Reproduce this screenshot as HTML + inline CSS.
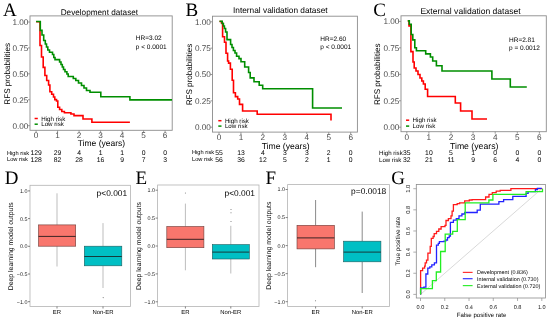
<!DOCTYPE html>
<html><head><meta charset="utf-8"><style>
html,body{margin:0;padding:0;background:#fff;}
body{width:550px;height:321px;overflow:hidden;}
svg{display:block;filter:blur(0.5px);}
text{text-rendering:geometricPrecision;}
</style></head><body>
<svg width="550" height="321" viewBox="0 0 550 321">
<rect x="0" y="0" width="550" height="321" fill="#fff"/>
<rect x="30.00" y="15.90" width="142.20" height="114.40" fill="none" stroke="#8c8c8c" stroke-width="0.9"/>
<line x1="28.00" y1="22.00" x2="30.00" y2="22.00" stroke="#8c8c8c" stroke-width="0.9" />
<text x="28.40" y="24.95" font-size="8.2" text-anchor="end" fill="#4d4d4d" font-family='"Liberation Sans", sans-serif' >1.00</text>
<line x1="28.00" y1="47.92" x2="30.00" y2="47.92" stroke="#8c8c8c" stroke-width="0.9" />
<text x="28.40" y="50.88" font-size="8.2" text-anchor="end" fill="#4d4d4d" font-family='"Liberation Sans", sans-serif' >0.75</text>
<line x1="28.00" y1="73.85" x2="30.00" y2="73.85" stroke="#8c8c8c" stroke-width="0.9" />
<text x="28.40" y="76.80" font-size="8.2" text-anchor="end" fill="#4d4d4d" font-family='"Liberation Sans", sans-serif' >0.50</text>
<line x1="28.00" y1="99.78" x2="30.00" y2="99.78" stroke="#8c8c8c" stroke-width="0.9" />
<text x="28.40" y="102.73" font-size="8.2" text-anchor="end" fill="#4d4d4d" font-family='"Liberation Sans", sans-serif' >0.25</text>
<line x1="28.00" y1="125.70" x2="30.00" y2="125.70" stroke="#8c8c8c" stroke-width="0.9" />
<text x="28.40" y="128.65" font-size="8.2" text-anchor="end" fill="#4d4d4d" font-family='"Liberation Sans", sans-serif' >0.00</text>
<line x1="36.10" y1="130.30" x2="36.10" y2="132.30" stroke="#8c8c8c" stroke-width="0.9" />
<text x="36.10" y="137.95" font-size="8.2" text-anchor="middle" fill="#4d4d4d" font-family='"Liberation Sans", sans-serif' >0</text>
<line x1="57.60" y1="130.30" x2="57.60" y2="132.30" stroke="#8c8c8c" stroke-width="0.9" />
<text x="57.60" y="137.95" font-size="8.2" text-anchor="middle" fill="#4d4d4d" font-family='"Liberation Sans", sans-serif' >1</text>
<line x1="79.10" y1="130.30" x2="79.10" y2="132.30" stroke="#8c8c8c" stroke-width="0.9" />
<text x="79.10" y="137.95" font-size="8.2" text-anchor="middle" fill="#4d4d4d" font-family='"Liberation Sans", sans-serif' >2</text>
<line x1="100.60" y1="130.30" x2="100.60" y2="132.30" stroke="#8c8c8c" stroke-width="0.9" />
<text x="100.60" y="137.95" font-size="8.2" text-anchor="middle" fill="#4d4d4d" font-family='"Liberation Sans", sans-serif' >3</text>
<line x1="122.10" y1="130.30" x2="122.10" y2="132.30" stroke="#8c8c8c" stroke-width="0.9" />
<text x="122.10" y="137.95" font-size="8.2" text-anchor="middle" fill="#4d4d4d" font-family='"Liberation Sans", sans-serif' >4</text>
<line x1="143.60" y1="130.30" x2="143.60" y2="132.30" stroke="#8c8c8c" stroke-width="0.9" />
<text x="143.60" y="137.95" font-size="8.2" text-anchor="middle" fill="#4d4d4d" font-family='"Liberation Sans", sans-serif' >5</text>
<line x1="165.10" y1="130.30" x2="165.10" y2="132.30" stroke="#8c8c8c" stroke-width="0.9" />
<text x="165.10" y="137.95" font-size="8.2" text-anchor="middle" fill="#4d4d4d" font-family='"Liberation Sans", sans-serif' >6</text>
<text x="60.70" y="14.95" font-size="8.2" text-anchor="start" fill="#000" font-family='"Liberation Sans", sans-serif' >Development dataset</text>
<text transform="translate(6.60,73.85) rotate(-90)" x="0" y="2.92" font-size="8.1" text-anchor="middle" fill="#000" font-family='"Liberation Sans", sans-serif'>RFS probabilities</text>
<text x="101.40" y="146.46" font-size="8.5" text-anchor="middle" fill="#000" font-family='"Liberation Sans", sans-serif' >Time (years)</text>
<text x="135.80" y="39.74" font-size="6.5" text-anchor="start" fill="#000" font-family='"Liberation Sans", sans-serif' >HR=3.02</text>
<text x="135.80" y="49.04" font-size="6.5" text-anchor="start" fill="#000" font-family='"Liberation Sans", sans-serif' >p &lt; 0.0001</text>
<line x1="34.60" y1="118.50" x2="37.80" y2="118.50" stroke="#ff0000" stroke-width="1.5" />
<line x1="34.60" y1="124.20" x2="37.80" y2="124.20" stroke="#008e00" stroke-width="1.5" />
<text x="41.20" y="120.73" font-size="6.2" text-anchor="start" fill="#000" font-family='"Liberation Sans", sans-serif' >High risk</text>
<text x="41.20" y="126.43" font-size="6.2" text-anchor="start" fill="#000" font-family='"Liberation Sans", sans-serif' >Low risk</text>
<polyline points="36.10,21.80 40.00,21.80 40.00,45.50 41.50,45.50 41.50,57.00 43.20,57.00 43.20,67.40 44.90,67.40 44.90,75.50 46.70,75.50 46.70,80.50 48.60,80.50 48.60,85.00 49.90,85.00 49.90,91.70 51.70,91.70 51.70,94.20 53.50,94.20 53.50,97.00 54.80,97.00 54.80,99.60 56.50,99.60 56.50,101.00 57.80,101.00 57.80,107.30 59.60,107.30 59.60,109.50 61.80,109.50 61.80,111.50 64.40,111.50 64.40,112.70 70.90,112.70 70.90,114.00 74.00,114.00 74.00,115.60 83.00,115.60 83.00,119.00 91.90,119.00 91.90,122.20 129.90,122.20" fill="none" stroke="#ff0000" stroke-width="1.6" stroke-linejoin="miter" stroke-linecap="butt" />
<polyline points="36.10,21.50 40.30,21.50 40.30,30.40 42.00,30.40 42.00,35.00 43.70,35.00 43.70,40.50 45.30,40.50 45.30,44.00 46.50,44.00 46.50,47.00 47.80,47.00 47.80,50.00 49.50,50.00 49.50,52.30 52.50,52.30 52.50,54.50 53.80,54.50 53.80,57.50 55.00,57.50 55.00,59.60 59.60,59.60 59.60,62.00 61.00,62.00 61.00,64.50 62.30,64.50 62.30,67.00 63.50,67.00 63.50,69.50 65.00,69.50 65.00,71.70 66.90,71.70 66.90,74.00 68.20,74.00 68.20,76.50 73.30,76.50 73.30,78.50 75.80,78.50 75.80,80.50 78.50,80.50 78.50,83.00 81.50,83.00 81.50,85.50 84.00,85.50 84.00,88.00 86.50,88.00 86.50,90.50 90.00,90.50 90.00,92.30 100.80,92.30 100.80,96.80 129.90,96.80 129.90,99.90 172.00,99.90" fill="none" stroke="#008e00" stroke-width="1.6" stroke-linejoin="miter" stroke-linecap="butt" />
<text x="7.00" y="154.85" font-size="5.7" text-anchor="start" fill="#000" font-family='"Liberation Sans", sans-serif' >High risk</text>
<text x="7.00" y="161.25" font-size="5.7" text-anchor="start" fill="#000" font-family='"Liberation Sans", sans-serif' >Low risk</text>
<text x="36.10" y="155.25" font-size="6.8" text-anchor="middle" fill="#000" font-family='"Liberation Sans", sans-serif' >129</text>
<text x="36.10" y="161.65" font-size="6.8" text-anchor="middle" fill="#000" font-family='"Liberation Sans", sans-serif' >128</text>
<text x="57.60" y="155.25" font-size="6.8" text-anchor="middle" fill="#000" font-family='"Liberation Sans", sans-serif' >29</text>
<text x="57.60" y="161.65" font-size="6.8" text-anchor="middle" fill="#000" font-family='"Liberation Sans", sans-serif' >82</text>
<text x="79.10" y="155.25" font-size="6.8" text-anchor="middle" fill="#000" font-family='"Liberation Sans", sans-serif' >4</text>
<text x="79.10" y="161.65" font-size="6.8" text-anchor="middle" fill="#000" font-family='"Liberation Sans", sans-serif' >28</text>
<text x="100.60" y="155.25" font-size="6.8" text-anchor="middle" fill="#000" font-family='"Liberation Sans", sans-serif' >1</text>
<text x="100.60" y="161.65" font-size="6.8" text-anchor="middle" fill="#000" font-family='"Liberation Sans", sans-serif' >16</text>
<text x="122.10" y="155.25" font-size="6.8" text-anchor="middle" fill="#000" font-family='"Liberation Sans", sans-serif' >1</text>
<text x="122.10" y="161.65" font-size="6.8" text-anchor="middle" fill="#000" font-family='"Liberation Sans", sans-serif' >9</text>
<text x="143.60" y="155.25" font-size="6.8" text-anchor="middle" fill="#000" font-family='"Liberation Sans", sans-serif' >0</text>
<text x="143.60" y="161.65" font-size="6.8" text-anchor="middle" fill="#000" font-family='"Liberation Sans", sans-serif' >7</text>
<text x="165.10" y="155.25" font-size="6.8" text-anchor="middle" fill="#000" font-family='"Liberation Sans", sans-serif' >0</text>
<text x="165.10" y="161.65" font-size="6.8" text-anchor="middle" fill="#000" font-family='"Liberation Sans", sans-serif' >3</text>
<text x="3.00" y="15.80" font-size="19" fill="#000" font-family='"Liberation Serif", serif'>A</text>
<rect x="212.50" y="16.20" width="144.90" height="115.90" fill="none" stroke="#8c8c8c" stroke-width="0.9"/>
<line x1="210.50" y1="21.80" x2="212.50" y2="21.80" stroke="#8c8c8c" stroke-width="0.9" />
<text x="210.90" y="24.75" font-size="8.2" text-anchor="end" fill="#4d4d4d" font-family='"Liberation Sans", sans-serif' >1.00</text>
<line x1="210.50" y1="48.15" x2="212.50" y2="48.15" stroke="#8c8c8c" stroke-width="0.9" />
<text x="210.90" y="51.10" font-size="8.2" text-anchor="end" fill="#4d4d4d" font-family='"Liberation Sans", sans-serif' >0.75</text>
<line x1="210.50" y1="74.50" x2="212.50" y2="74.50" stroke="#8c8c8c" stroke-width="0.9" />
<text x="210.90" y="77.45" font-size="8.2" text-anchor="end" fill="#4d4d4d" font-family='"Liberation Sans", sans-serif' >0.50</text>
<line x1="210.50" y1="100.85" x2="212.50" y2="100.85" stroke="#8c8c8c" stroke-width="0.9" />
<text x="210.90" y="103.80" font-size="8.2" text-anchor="end" fill="#4d4d4d" font-family='"Liberation Sans", sans-serif' >0.25</text>
<line x1="210.50" y1="127.20" x2="212.50" y2="127.20" stroke="#8c8c8c" stroke-width="0.9" />
<text x="210.90" y="130.15" font-size="8.2" text-anchor="end" fill="#4d4d4d" font-family='"Liberation Sans", sans-serif' >0.00</text>
<line x1="219.00" y1="132.10" x2="219.00" y2="134.10" stroke="#8c8c8c" stroke-width="0.9" />
<text x="219.00" y="139.55" font-size="8.2" text-anchor="middle" fill="#4d4d4d" font-family='"Liberation Sans", sans-serif' >0</text>
<line x1="240.95" y1="132.10" x2="240.95" y2="134.10" stroke="#8c8c8c" stroke-width="0.9" />
<text x="240.95" y="139.55" font-size="8.2" text-anchor="middle" fill="#4d4d4d" font-family='"Liberation Sans", sans-serif' >1</text>
<line x1="262.90" y1="132.10" x2="262.90" y2="134.10" stroke="#8c8c8c" stroke-width="0.9" />
<text x="262.90" y="139.55" font-size="8.2" text-anchor="middle" fill="#4d4d4d" font-family='"Liberation Sans", sans-serif' >2</text>
<line x1="284.85" y1="132.10" x2="284.85" y2="134.10" stroke="#8c8c8c" stroke-width="0.9" />
<text x="284.85" y="139.55" font-size="8.2" text-anchor="middle" fill="#4d4d4d" font-family='"Liberation Sans", sans-serif' >3</text>
<line x1="306.80" y1="132.10" x2="306.80" y2="134.10" stroke="#8c8c8c" stroke-width="0.9" />
<text x="306.80" y="139.55" font-size="8.2" text-anchor="middle" fill="#4d4d4d" font-family='"Liberation Sans", sans-serif' >4</text>
<line x1="328.75" y1="132.10" x2="328.75" y2="134.10" stroke="#8c8c8c" stroke-width="0.9" />
<text x="328.75" y="139.55" font-size="8.2" text-anchor="middle" fill="#4d4d4d" font-family='"Liberation Sans", sans-serif' >5</text>
<line x1="350.70" y1="132.10" x2="350.70" y2="134.10" stroke="#8c8c8c" stroke-width="0.9" />
<text x="350.70" y="139.55" font-size="8.2" text-anchor="middle" fill="#4d4d4d" font-family='"Liberation Sans", sans-serif' >6</text>
<text x="233.00" y="13.29" font-size="8.3" text-anchor="start" fill="#000" font-family='"Liberation Sans", sans-serif' >Internal validation dataset</text>
<text transform="translate(189.30,74.50) rotate(-90)" x="0" y="2.92" font-size="8.1" text-anchor="middle" fill="#000" font-family='"Liberation Sans", sans-serif'>RFS probabilities</text>
<text x="285.60" y="148.80" font-size="8.6" text-anchor="middle" fill="#000" font-family='"Liberation Sans", sans-serif' >Time (years)</text>
<text x="320.30" y="41.04" font-size="6.5" text-anchor="start" fill="#000" font-family='"Liberation Sans", sans-serif' >HR=2.60</text>
<text x="320.30" y="49.04" font-size="6.5" text-anchor="start" fill="#000" font-family='"Liberation Sans", sans-serif' >p &lt; 0.0001</text>
<line x1="218.30" y1="120.70" x2="221.50" y2="120.70" stroke="#ff0000" stroke-width="1.5" />
<line x1="218.30" y1="126.10" x2="221.50" y2="126.10" stroke="#008e00" stroke-width="1.5" />
<text x="224.90" y="122.93" font-size="6.2" text-anchor="start" fill="#000" font-family='"Liberation Sans", sans-serif' >High risk</text>
<text x="224.90" y="128.33" font-size="6.2" text-anchor="start" fill="#000" font-family='"Liberation Sans", sans-serif' >Low risk</text>
<polyline points="219.50,21.50 221.50,21.50 221.50,23.00 222.60,23.00 222.60,36.80 224.50,36.80 224.50,42.30 226.00,42.30 226.00,53.20 227.60,53.20 227.60,61.00 228.60,61.00 228.60,63.10 230.40,63.10 230.40,69.30 232.20,69.30 232.20,80.20 233.50,80.20 233.50,92.70 235.40,92.70 235.40,96.60 237.70,96.60 237.70,99.00 239.50,99.00 239.50,104.40 242.60,104.40 242.60,111.00 257.20,111.00 257.20,114.20 331.00,114.20 331.00,120.60" fill="none" stroke="#ff0000" stroke-width="1.6" stroke-linejoin="miter" stroke-linecap="butt" />
<polyline points="219.50,21.30 222.20,21.30 222.20,23.50 223.40,23.50 223.40,26.00 224.40,26.00 224.40,28.50 225.60,28.50 225.60,32.00 227.00,32.00 227.00,39.60 230.60,39.60 230.60,44.50 232.00,44.50 232.00,47.50 233.40,47.50 233.40,50.50 235.00,50.50 235.00,53.00 236.60,53.00 236.60,56.30 239.00,56.30 239.00,58.60 241.00,58.60 241.00,61.70 244.70,61.70 244.70,67.00 248.60,67.00 248.60,72.50 250.20,72.50 250.20,77.90 254.00,77.90 254.00,81.80 259.20,81.80 259.20,85.20 262.70,85.20 262.70,88.80 312.60,88.80 312.60,108.00 342.00,108.00" fill="none" stroke="#008e00" stroke-width="1.6" stroke-linejoin="miter" stroke-linecap="butt" />
<text x="192.00" y="154.35" font-size="5.7" text-anchor="start" fill="#000" font-family='"Liberation Sans", sans-serif' >High risk</text>
<text x="192.00" y="161.35" font-size="5.7" text-anchor="start" fill="#000" font-family='"Liberation Sans", sans-serif' >Low risk</text>
<text x="219.00" y="154.75" font-size="6.8" text-anchor="middle" fill="#000" font-family='"Liberation Sans", sans-serif' >55</text>
<text x="219.00" y="161.75" font-size="6.8" text-anchor="middle" fill="#000" font-family='"Liberation Sans", sans-serif' >56</text>
<text x="240.95" y="154.75" font-size="6.8" text-anchor="middle" fill="#000" font-family='"Liberation Sans", sans-serif' >13</text>
<text x="240.95" y="161.75" font-size="6.8" text-anchor="middle" fill="#000" font-family='"Liberation Sans", sans-serif' >36</text>
<text x="262.90" y="154.75" font-size="6.8" text-anchor="middle" fill="#000" font-family='"Liberation Sans", sans-serif' >4</text>
<text x="262.90" y="161.75" font-size="6.8" text-anchor="middle" fill="#000" font-family='"Liberation Sans", sans-serif' >12</text>
<text x="284.85" y="154.75" font-size="6.8" text-anchor="middle" fill="#000" font-family='"Liberation Sans", sans-serif' >3</text>
<text x="284.85" y="161.75" font-size="6.8" text-anchor="middle" fill="#000" font-family='"Liberation Sans", sans-serif' >5</text>
<text x="306.80" y="154.75" font-size="6.8" text-anchor="middle" fill="#000" font-family='"Liberation Sans", sans-serif' >3</text>
<text x="306.80" y="161.75" font-size="6.8" text-anchor="middle" fill="#000" font-family='"Liberation Sans", sans-serif' >2</text>
<text x="328.75" y="154.75" font-size="6.8" text-anchor="middle" fill="#000" font-family='"Liberation Sans", sans-serif' >2</text>
<text x="328.75" y="161.75" font-size="6.8" text-anchor="middle" fill="#000" font-family='"Liberation Sans", sans-serif' >1</text>
<text x="350.70" y="154.75" font-size="6.8" text-anchor="middle" fill="#000" font-family='"Liberation Sans", sans-serif' >0</text>
<text x="350.70" y="161.75" font-size="6.8" text-anchor="middle" fill="#000" font-family='"Liberation Sans", sans-serif' >0</text>
<text x="185.50" y="16.00" font-size="19" fill="#000" font-family='"Liberation Serif", serif'>B</text>
<rect x="401.00" y="15.80" width="145.30" height="115.90" fill="none" stroke="#8c8c8c" stroke-width="0.9"/>
<line x1="399.00" y1="21.40" x2="401.00" y2="21.40" stroke="#8c8c8c" stroke-width="0.9" />
<text x="399.40" y="24.35" font-size="8.2" text-anchor="end" fill="#4d4d4d" font-family='"Liberation Sans", sans-serif' >1.00</text>
<line x1="399.00" y1="47.85" x2="401.00" y2="47.85" stroke="#8c8c8c" stroke-width="0.9" />
<text x="399.40" y="50.80" font-size="8.2" text-anchor="end" fill="#4d4d4d" font-family='"Liberation Sans", sans-serif' >0.75</text>
<line x1="399.00" y1="74.30" x2="401.00" y2="74.30" stroke="#8c8c8c" stroke-width="0.9" />
<text x="399.40" y="77.25" font-size="8.2" text-anchor="end" fill="#4d4d4d" font-family='"Liberation Sans", sans-serif' >0.50</text>
<line x1="399.00" y1="100.75" x2="401.00" y2="100.75" stroke="#8c8c8c" stroke-width="0.9" />
<text x="399.40" y="103.70" font-size="8.2" text-anchor="end" fill="#4d4d4d" font-family='"Liberation Sans", sans-serif' >0.25</text>
<line x1="399.00" y1="127.20" x2="401.00" y2="127.20" stroke="#8c8c8c" stroke-width="0.9" />
<text x="399.40" y="130.15" font-size="8.2" text-anchor="end" fill="#4d4d4d" font-family='"Liberation Sans", sans-serif' >0.00</text>
<line x1="406.80" y1="131.70" x2="406.80" y2="133.70" stroke="#8c8c8c" stroke-width="0.9" />
<text x="406.80" y="139.95" font-size="8.2" text-anchor="middle" fill="#4d4d4d" font-family='"Liberation Sans", sans-serif' >0</text>
<line x1="428.90" y1="131.70" x2="428.90" y2="133.70" stroke="#8c8c8c" stroke-width="0.9" />
<text x="428.90" y="139.95" font-size="8.2" text-anchor="middle" fill="#4d4d4d" font-family='"Liberation Sans", sans-serif' >1</text>
<line x1="451.00" y1="131.70" x2="451.00" y2="133.70" stroke="#8c8c8c" stroke-width="0.9" />
<text x="451.00" y="139.95" font-size="8.2" text-anchor="middle" fill="#4d4d4d" font-family='"Liberation Sans", sans-serif' >2</text>
<line x1="473.10" y1="131.70" x2="473.10" y2="133.70" stroke="#8c8c8c" stroke-width="0.9" />
<text x="473.10" y="139.95" font-size="8.2" text-anchor="middle" fill="#4d4d4d" font-family='"Liberation Sans", sans-serif' >3</text>
<line x1="495.20" y1="131.70" x2="495.20" y2="133.70" stroke="#8c8c8c" stroke-width="0.9" />
<text x="495.20" y="139.95" font-size="8.2" text-anchor="middle" fill="#4d4d4d" font-family='"Liberation Sans", sans-serif' >4</text>
<line x1="517.30" y1="131.70" x2="517.30" y2="133.70" stroke="#8c8c8c" stroke-width="0.9" />
<text x="517.30" y="139.95" font-size="8.2" text-anchor="middle" fill="#4d4d4d" font-family='"Liberation Sans", sans-serif' >5</text>
<line x1="539.40" y1="131.70" x2="539.40" y2="133.70" stroke="#8c8c8c" stroke-width="0.9" />
<text x="539.40" y="139.95" font-size="8.2" text-anchor="middle" fill="#4d4d4d" font-family='"Liberation Sans", sans-serif' >6</text>
<text x="420.40" y="13.68" font-size="8.55" text-anchor="start" fill="#000" font-family='"Liberation Sans", sans-serif' >External validation dataset</text>
<text transform="translate(377.20,74.30) rotate(-90)" x="0" y="2.92" font-size="8.1" text-anchor="middle" fill="#000" font-family='"Liberation Sans", sans-serif'>RFS probabilities</text>
<text x="474.20" y="149.13" font-size="8.7" text-anchor="middle" fill="#000" font-family='"Liberation Sans", sans-serif' >Time (years)</text>
<text x="509.00" y="41.64" font-size="6.5" text-anchor="start" fill="#000" font-family='"Liberation Sans", sans-serif' >HR=2.81</text>
<text x="509.00" y="50.34" font-size="6.5" text-anchor="start" fill="#000" font-family='"Liberation Sans", sans-serif' >p = 0.0012</text>
<line x1="406.00" y1="120.20" x2="409.20" y2="120.20" stroke="#ff0000" stroke-width="1.5" />
<line x1="406.00" y1="126.10" x2="409.20" y2="126.10" stroke="#008e00" stroke-width="1.5" />
<text x="412.60" y="122.43" font-size="6.2" text-anchor="start" fill="#000" font-family='"Liberation Sans", sans-serif' >High risk</text>
<text x="412.60" y="128.33" font-size="6.2" text-anchor="start" fill="#000" font-family='"Liberation Sans", sans-serif' >Low risk</text>
<polyline points="407.80,20.90 409.00,20.90 409.00,25.90 410.90,25.90 410.90,51.60 413.00,51.60 413.00,62.00 414.20,62.00 414.20,68.00 416.00,68.00 416.00,71.00 418.00,71.00 418.00,74.50 420.00,74.50 420.00,78.00 421.80,78.00 421.80,81.00 423.40,81.00 423.40,84.00 425.20,84.00 425.20,89.20 427.60,89.20 427.60,96.50 455.30,96.50 455.30,103.00 460.60,103.00 460.60,111.00 472.00,111.00 472.00,119.00 487.00,119.00" fill="none" stroke="#ff0000" stroke-width="1.6" stroke-linejoin="miter" stroke-linecap="butt" />
<polyline points="407.80,20.90 409.30,20.90 409.30,24.30 411.20,24.30 411.20,34.50 412.80,34.50 412.80,39.90 414.80,39.90 414.80,47.70 416.40,47.70 416.40,50.80 425.70,50.80 425.70,53.90 430.40,53.90 430.40,57.00 432.70,57.00 432.70,61.00 436.40,61.00 436.40,65.80 442.00,65.80 442.00,71.00 491.90,71.00 491.90,79.00 510.30,79.00 510.30,87.00 526.80,87.00" fill="none" stroke="#008e00" stroke-width="1.6" stroke-linejoin="miter" stroke-linecap="butt" />
<text x="379.00" y="155.10" font-size="6.1" text-anchor="start" fill="#000" font-family='"Liberation Sans", sans-serif' >High risk</text>
<text x="379.00" y="161.60" font-size="6.1" text-anchor="start" fill="#000" font-family='"Liberation Sans", sans-serif' >Low risk</text>
<text x="406.80" y="155.35" font-size="6.8" text-anchor="middle" fill="#000" font-family='"Liberation Sans", sans-serif' >35</text>
<text x="406.80" y="161.85" font-size="6.8" text-anchor="middle" fill="#000" font-family='"Liberation Sans", sans-serif' >32</text>
<text x="428.90" y="155.35" font-size="6.8" text-anchor="middle" fill="#000" font-family='"Liberation Sans", sans-serif' >10</text>
<text x="428.90" y="161.85" font-size="6.8" text-anchor="middle" fill="#000" font-family='"Liberation Sans", sans-serif' >21</text>
<text x="451.00" y="155.35" font-size="6.8" text-anchor="middle" fill="#000" font-family='"Liberation Sans", sans-serif' >5</text>
<text x="451.00" y="161.85" font-size="6.8" text-anchor="middle" fill="#000" font-family='"Liberation Sans", sans-serif' >11</text>
<text x="473.10" y="155.35" font-size="6.8" text-anchor="middle" fill="#000" font-family='"Liberation Sans", sans-serif' >1</text>
<text x="473.10" y="161.85" font-size="6.8" text-anchor="middle" fill="#000" font-family='"Liberation Sans", sans-serif' >9</text>
<text x="495.20" y="155.35" font-size="6.8" text-anchor="middle" fill="#000" font-family='"Liberation Sans", sans-serif' >0</text>
<text x="495.20" y="161.85" font-size="6.8" text-anchor="middle" fill="#000" font-family='"Liberation Sans", sans-serif' >6</text>
<text x="517.30" y="155.35" font-size="6.8" text-anchor="middle" fill="#000" font-family='"Liberation Sans", sans-serif' >0</text>
<text x="517.30" y="161.85" font-size="6.8" text-anchor="middle" fill="#000" font-family='"Liberation Sans", sans-serif' >4</text>
<text x="539.40" y="155.35" font-size="6.8" text-anchor="middle" fill="#000" font-family='"Liberation Sans", sans-serif' >0</text>
<text x="539.40" y="161.85" font-size="6.8" text-anchor="middle" fill="#000" font-family='"Liberation Sans", sans-serif' >0</text>
<text x="373.30" y="16.20" font-size="19" fill="#000" font-family='"Liberation Serif", serif'>C</text>
<rect x="30.00" y="185.30" width="100.40" height="121.20" fill="none" stroke="#b3b3b3" stroke-width="0.8"/>
<line x1="28.00" y1="190.90" x2="30.00" y2="190.90" stroke="#4d4d4d" stroke-width="0.7" />
<text x="27.40" y="192.84" font-size="5.4" text-anchor="end" fill="#222" font-family='"Liberation Sans", sans-serif' >1.0</text>
<line x1="28.00" y1="218.60" x2="30.00" y2="218.60" stroke="#4d4d4d" stroke-width="0.7" />
<text x="27.40" y="220.54" font-size="5.4" text-anchor="end" fill="#222" font-family='"Liberation Sans", sans-serif' >0.5</text>
<line x1="28.00" y1="246.30" x2="30.00" y2="246.30" stroke="#4d4d4d" stroke-width="0.7" />
<text x="27.40" y="248.24" font-size="5.4" text-anchor="end" fill="#222" font-family='"Liberation Sans", sans-serif' >0.0</text>
<line x1="28.00" y1="274.00" x2="30.00" y2="274.00" stroke="#4d4d4d" stroke-width="0.7" />
<text x="27.40" y="275.94" font-size="5.4" text-anchor="end" fill="#222" font-family='"Liberation Sans", sans-serif' >−0.5</text>
<line x1="28.00" y1="301.70" x2="30.00" y2="301.70" stroke="#4d4d4d" stroke-width="0.7" />
<text x="27.40" y="303.64" font-size="5.4" text-anchor="end" fill="#222" font-family='"Liberation Sans", sans-serif' >−1.0</text>
<line x1="57.00" y1="306.50" x2="57.00" y2="308.50" stroke="#4d4d4d" stroke-width="0.7" />
<line x1="57.00" y1="193.30" x2="57.00" y2="224.90" stroke="#bdbdbd" stroke-width="1.0" />
<line x1="57.00" y1="246.20" x2="57.00" y2="266.50" stroke="#bdbdbd" stroke-width="1.0" />
<rect x="38.50" y="224.90" width="37.20" height="21.30" fill="#f8766d" stroke="#6a3a36" stroke-width="0.6"/>
<line x1="38.50" y1="236.40" x2="75.70" y2="236.40" stroke="#3a2424" stroke-width="1.0" />
<line x1="103.00" y1="306.50" x2="103.00" y2="308.50" stroke="#4d4d4d" stroke-width="0.7" />
<line x1="103.00" y1="223.10" x2="103.00" y2="246.20" stroke="#bdbdbd" stroke-width="1.0" />
<line x1="103.00" y1="265.80" x2="103.00" y2="288.00" stroke="#bdbdbd" stroke-width="1.0" />
<rect x="84.30" y="246.20" width="37.50" height="19.60" fill="#00bfc4" stroke="#1d5c5e" stroke-width="0.6"/>
<line x1="84.30" y1="256.50" x2="121.80" y2="256.50" stroke="#163a3b" stroke-width="1.0" />
<circle cx="103.20" cy="297.60" r="0.55" fill="#777"/>
<text x="56.80" y="313.72" font-size="5.9" text-anchor="middle" fill="#000" font-family='"Liberation Sans", sans-serif' >ER</text>
<text x="103.00" y="313.72" font-size="5.9" text-anchor="middle" fill="#000" font-family='"Liberation Sans", sans-serif' >Non-ER</text>
<text x="96.60" y="196.12" font-size="8.4" text-anchor="start" fill="#000" font-family='"Liberation Sans", sans-serif' >p&lt;0.001</text>
<text transform="translate(11.00,246.30) rotate(-90)" x="0" y="2.48" font-size="6.9" text-anchor="middle" fill="#000" font-family='"Liberation Sans", sans-serif'>Deep learning model outputs</text>
<text x="4.80" y="184.20" font-size="19" fill="#000" font-family='"Liberation Serif", serif'>D</text>
<rect x="157.60" y="185.00" width="101.40" height="121.50" fill="none" stroke="#b3b3b3" stroke-width="0.8"/>
<line x1="155.60" y1="190.20" x2="157.60" y2="190.20" stroke="#4d4d4d" stroke-width="0.7" />
<text x="155.00" y="192.14" font-size="5.4" text-anchor="end" fill="#222" font-family='"Liberation Sans", sans-serif' >1.0</text>
<line x1="155.60" y1="218.10" x2="157.60" y2="218.10" stroke="#4d4d4d" stroke-width="0.7" />
<text x="155.00" y="220.04" font-size="5.4" text-anchor="end" fill="#222" font-family='"Liberation Sans", sans-serif' >0.5</text>
<line x1="155.60" y1="246.00" x2="157.60" y2="246.00" stroke="#4d4d4d" stroke-width="0.7" />
<text x="155.00" y="247.94" font-size="5.4" text-anchor="end" fill="#222" font-family='"Liberation Sans", sans-serif' >0.0</text>
<line x1="155.60" y1="273.90" x2="157.60" y2="273.90" stroke="#4d4d4d" stroke-width="0.7" />
<text x="155.00" y="275.84" font-size="5.4" text-anchor="end" fill="#222" font-family='"Liberation Sans", sans-serif' >−0.5</text>
<line x1="155.60" y1="301.80" x2="157.60" y2="301.80" stroke="#4d4d4d" stroke-width="0.7" />
<text x="155.00" y="303.74" font-size="5.4" text-anchor="end" fill="#222" font-family='"Liberation Sans", sans-serif' >−1.0</text>
<line x1="185.40" y1="306.50" x2="185.40" y2="308.50" stroke="#4d4d4d" stroke-width="0.7" />
<line x1="185.40" y1="203.60" x2="185.40" y2="226.50" stroke="#bdbdbd" stroke-width="1.0" />
<line x1="185.40" y1="247.70" x2="185.40" y2="270.30" stroke="#bdbdbd" stroke-width="1.0" />
<rect x="166.80" y="226.50" width="37.10" height="21.20" fill="#f8766d" stroke="#6a3a36" stroke-width="0.6"/>
<line x1="166.80" y1="239.30" x2="203.90" y2="239.30" stroke="#3a2424" stroke-width="1.0" />
<circle cx="185.40" cy="193.00" r="0.55" fill="#777"/>
<line x1="230.80" y1="306.50" x2="230.80" y2="308.50" stroke="#4d4d4d" stroke-width="0.7" />
<line x1="230.80" y1="225.80" x2="230.80" y2="244.60" stroke="#bdbdbd" stroke-width="1.0" />
<line x1="230.80" y1="259.00" x2="230.80" y2="273.50" stroke="#bdbdbd" stroke-width="1.0" />
<rect x="212.30" y="244.60" width="37.00" height="14.40" fill="#00bfc4" stroke="#1d5c5e" stroke-width="0.6"/>
<line x1="212.30" y1="252.10" x2="249.30" y2="252.10" stroke="#163a3b" stroke-width="1.0" />
<circle cx="231.00" cy="209.50" r="0.55" fill="#777"/>
<circle cx="231.00" cy="212.80" r="0.55" fill="#777"/>
<circle cx="231.00" cy="221.50" r="0.55" fill="#777"/>
<text x="185.40" y="313.72" font-size="5.9" text-anchor="middle" fill="#000" font-family='"Liberation Sans", sans-serif' >ER</text>
<text x="230.80" y="313.72" font-size="5.9" text-anchor="middle" fill="#000" font-family='"Liberation Sans", sans-serif' >Non-ER</text>
<text x="224.50" y="195.72" font-size="8.4" text-anchor="start" fill="#000" font-family='"Liberation Sans", sans-serif' >p&lt;0.001</text>
<text transform="translate(138.60,246.00) rotate(-90)" x="0" y="2.48" font-size="6.9" text-anchor="middle" fill="#000" font-family='"Liberation Sans", sans-serif'>Deep learning model outputs</text>
<text x="135.60" y="184.20" font-size="19" fill="#000" font-family='"Liberation Serif", serif'>E</text>
<rect x="287.60" y="184.60" width="101.90" height="121.90" fill="none" stroke="#b3b3b3" stroke-width="0.8"/>
<line x1="285.60" y1="189.50" x2="287.60" y2="189.50" stroke="#4d4d4d" stroke-width="0.7" />
<text x="285.00" y="191.44" font-size="5.4" text-anchor="end" fill="#222" font-family='"Liberation Sans", sans-serif' >1.0</text>
<line x1="285.60" y1="217.55" x2="287.60" y2="217.55" stroke="#4d4d4d" stroke-width="0.7" />
<text x="285.00" y="219.49" font-size="5.4" text-anchor="end" fill="#222" font-family='"Liberation Sans", sans-serif' >0.5</text>
<line x1="285.60" y1="245.60" x2="287.60" y2="245.60" stroke="#4d4d4d" stroke-width="0.7" />
<text x="285.00" y="247.54" font-size="5.4" text-anchor="end" fill="#222" font-family='"Liberation Sans", sans-serif' >0.0</text>
<line x1="285.60" y1="273.65" x2="287.60" y2="273.65" stroke="#4d4d4d" stroke-width="0.7" />
<text x="285.00" y="275.59" font-size="5.4" text-anchor="end" fill="#222" font-family='"Liberation Sans", sans-serif' >−0.5</text>
<line x1="285.60" y1="301.70" x2="287.60" y2="301.70" stroke="#4d4d4d" stroke-width="0.7" />
<text x="285.00" y="303.64" font-size="5.4" text-anchor="end" fill="#222" font-family='"Liberation Sans", sans-serif' >−1.0</text>
<line x1="315.60" y1="306.50" x2="315.60" y2="308.50" stroke="#4d4d4d" stroke-width="0.7" />
<line x1="315.60" y1="200.00" x2="315.60" y2="225.30" stroke="#8a8a8a" stroke-width="1.0" />
<line x1="315.60" y1="248.90" x2="315.60" y2="267.20" stroke="#8a8a8a" stroke-width="1.0" />
<rect x="297.00" y="225.30" width="37.40" height="23.60" fill="#f8766d" stroke="#6a3a36" stroke-width="0.6"/>
<line x1="297.00" y1="237.90" x2="334.40" y2="237.90" stroke="#3a2424" stroke-width="1.0" />
<circle cx="315.50" cy="300.80" r="0.55" fill="#777"/>
<line x1="362.20" y1="306.50" x2="362.20" y2="308.50" stroke="#4d4d4d" stroke-width="0.7" />
<line x1="362.20" y1="211.60" x2="362.20" y2="241.20" stroke="#8a8a8a" stroke-width="1.0" />
<line x1="362.20" y1="261.80" x2="362.20" y2="293.00" stroke="#8a8a8a" stroke-width="1.0" />
<rect x="343.60" y="241.20" width="37.30" height="20.60" fill="#00bfc4" stroke="#1d5c5e" stroke-width="0.6"/>
<line x1="343.60" y1="252.10" x2="380.90" y2="252.10" stroke="#163a3b" stroke-width="1.0" />
<text x="315.60" y="313.72" font-size="5.9" text-anchor="middle" fill="#000" font-family='"Liberation Sans", sans-serif' >ER</text>
<text x="362.20" y="313.72" font-size="5.9" text-anchor="middle" fill="#000" font-family='"Liberation Sans", sans-serif' >Non-ER</text>
<text x="351.10" y="193.92" font-size="8.4" text-anchor="start" fill="#000" font-family='"Liberation Sans", sans-serif' >p=0.0018</text>
<text transform="translate(268.60,245.60) rotate(-90)" x="0" y="2.48" font-size="6.9" text-anchor="middle" fill="#000" font-family='"Liberation Sans", sans-serif'>Deep learning model outputs</text>
<text x="265.60" y="183.70" font-size="19" fill="#000" font-family='"Liberation Serif", serif'>F</text>
<rect x="416.30" y="184.50" width="129.30" height="113.50" fill="none" stroke="#8c8c8c" stroke-width="0.8"/>
<line x1="413.30" y1="294.40" x2="416.30" y2="294.40" stroke="#8c8c8c" stroke-width="0.7" />
<text transform="translate(407.90,294.40) rotate(-90)" x="0" y="2.09" font-size="5.8" text-anchor="middle" fill="#222" font-family='"Liberation Sans", sans-serif'>0.0</text>
<line x1="420.50" y1="298.00" x2="420.50" y2="301.00" stroke="#8c8c8c" stroke-width="0.7" />
<text x="420.50" y="309.32" font-size="5.6" text-anchor="middle" fill="#222" font-family='"Liberation Sans", sans-serif' >0.0</text>
<line x1="413.30" y1="273.26" x2="416.30" y2="273.26" stroke="#8c8c8c" stroke-width="0.7" />
<text transform="translate(407.90,273.26) rotate(-90)" x="0" y="2.09" font-size="5.8" text-anchor="middle" fill="#222" font-family='"Liberation Sans", sans-serif'>0.2</text>
<line x1="444.76" y1="298.00" x2="444.76" y2="301.00" stroke="#8c8c8c" stroke-width="0.7" />
<text x="444.76" y="309.32" font-size="5.6" text-anchor="middle" fill="#222" font-family='"Liberation Sans", sans-serif' >0.2</text>
<line x1="413.30" y1="252.12" x2="416.30" y2="252.12" stroke="#8c8c8c" stroke-width="0.7" />
<text transform="translate(407.90,252.12) rotate(-90)" x="0" y="2.09" font-size="5.8" text-anchor="middle" fill="#222" font-family='"Liberation Sans", sans-serif'>0.4</text>
<line x1="469.02" y1="298.00" x2="469.02" y2="301.00" stroke="#8c8c8c" stroke-width="0.7" />
<text x="469.02" y="309.32" font-size="5.6" text-anchor="middle" fill="#222" font-family='"Liberation Sans", sans-serif' >0.4</text>
<line x1="413.30" y1="230.98" x2="416.30" y2="230.98" stroke="#8c8c8c" stroke-width="0.7" />
<text transform="translate(407.90,230.98) rotate(-90)" x="0" y="2.09" font-size="5.8" text-anchor="middle" fill="#222" font-family='"Liberation Sans", sans-serif'>0.6</text>
<line x1="493.28" y1="298.00" x2="493.28" y2="301.00" stroke="#8c8c8c" stroke-width="0.7" />
<text x="493.28" y="309.32" font-size="5.6" text-anchor="middle" fill="#222" font-family='"Liberation Sans", sans-serif' >0.6</text>
<line x1="413.30" y1="209.84" x2="416.30" y2="209.84" stroke="#8c8c8c" stroke-width="0.7" />
<text transform="translate(407.90,209.84) rotate(-90)" x="0" y="2.09" font-size="5.8" text-anchor="middle" fill="#222" font-family='"Liberation Sans", sans-serif'>0.8</text>
<line x1="517.54" y1="298.00" x2="517.54" y2="301.00" stroke="#8c8c8c" stroke-width="0.7" />
<text x="517.54" y="309.32" font-size="5.6" text-anchor="middle" fill="#222" font-family='"Liberation Sans", sans-serif' >0.8</text>
<line x1="413.30" y1="188.70" x2="416.30" y2="188.70" stroke="#8c8c8c" stroke-width="0.7" />
<text transform="translate(407.90,188.70) rotate(-90)" x="0" y="2.09" font-size="5.8" text-anchor="middle" fill="#222" font-family='"Liberation Sans", sans-serif'>1.0</text>
<line x1="541.80" y1="298.00" x2="541.80" y2="301.00" stroke="#8c8c8c" stroke-width="0.7" />
<text x="541.80" y="309.32" font-size="5.6" text-anchor="middle" fill="#222" font-family='"Liberation Sans", sans-serif' >1.0</text>
<text x="481.60" y="316.90" font-size="6.1" text-anchor="middle" fill="#000" font-family='"Liberation Sans", sans-serif' >False positive rate</text>
<text transform="translate(397.20,241.30) rotate(-90)" x="0" y="2.30" font-size="6.4" text-anchor="middle" fill="#000" font-family='"Liberation Sans", sans-serif'>True positive rate</text>
<line x1="420.50" y1="294.40" x2="541.80" y2="188.70" stroke="#c8c8c8" stroke-width="0.7" />
<polyline points="420.60,294.40 420.60,270.70 422.60,270.70 422.60,268.10 424.60,268.10 424.60,266.10 425.20,266.10 425.20,262.90 426.50,262.90 426.50,260.20 427.90,260.20 427.90,253.20 430.20,253.20 430.20,246.30 431.30,246.30 431.30,238.30 433.10,238.30 433.10,236.50 434.20,236.50 434.20,233.60 436.50,233.60 436.50,231.30 438.80,231.30 438.80,229.00 441.10,229.00 441.10,226.70 445.00,226.70 445.00,225.40 446.00,225.40 446.00,220.50 448.40,220.50 448.40,218.60 451.00,218.60 451.00,215.80 452.10,215.80 452.10,211.20 453.40,211.20 453.40,204.60 457.20,204.60 457.20,203.70 459.60,203.70 459.60,202.80 464.70,202.80 464.70,200.90 469.30,200.90 469.30,200.00 472.10,200.00 472.10,199.60 483.60,199.60 485.60,199.60 485.60,197.00 489.00,197.00 489.00,194.30 492.30,194.30 492.30,192.60 496.20,192.60 496.20,191.20 500.20,191.20 500.20,190.30 508.20,190.30 510.90,190.30 510.90,188.60 536.10,188.60 541.80,188.60 541.80,188.70" fill="none" stroke="#ff1a1a" stroke-width="1.3" stroke-linejoin="miter" stroke-linecap="butt" />
<polyline points="420.60,294.40 420.60,288.00 423.90,288.00 423.90,287.10 425.90,287.10 425.90,274.00 427.80,274.00 427.80,272.70 427.80,268.10 429.80,268.10 429.80,266.80 431.80,266.80 431.80,264.80 434.40,264.80 434.40,262.90 436.50,262.90 436.50,261.60 436.50,245.20 438.30,245.20 438.30,243.40 439.40,243.40 439.40,241.70 444.00,241.70 444.00,241.10 445.70,241.10 445.70,240.00 447.50,240.00 447.50,237.70 449.20,237.70 449.20,236.00 450.40,236.00 450.40,234.80 450.40,222.40 453.40,222.40 453.40,220.10 456.30,220.10 456.30,218.60 459.00,218.60 459.00,215.80 461.90,215.80 461.90,214.00 464.70,214.00 464.70,212.50 477.20,212.50 477.20,210.20 480.30,210.20 480.30,204.20 498.90,204.20 498.90,201.60 503.60,201.60 503.60,199.60 512.80,199.60 512.80,196.30 526.10,196.30 526.10,193.40 528.10,193.40 528.10,191.60 535.40,191.60 535.40,189.60 537.40,189.60 537.40,188.30 541.80,188.30" fill="none" stroke="#2222ff" stroke-width="1.3" stroke-linejoin="miter" stroke-linecap="butt" />
<polyline points="420.60,294.40 420.60,288.60 432.40,288.60 432.40,280.60 436.30,280.60 436.30,272.00 440.60,272.00 440.60,251.50 445.20,251.50 445.20,234.20 452.70,234.20 452.70,231.30 457.30,231.30 457.30,219.60 465.20,219.60 465.20,202.80 488.90,202.80 488.90,200.00 492.90,200.00 492.90,194.30 526.10,194.30 526.10,191.60 542.50,191.60 542.50,188.70" fill="none" stroke="#22ee22" stroke-width="1.3" stroke-linejoin="miter" stroke-linecap="butt" />
<line x1="462.80" y1="272.40" x2="472.60" y2="272.40" stroke="#ff3333" stroke-width="1.2" />
<text x="477.10" y="274.36" font-size="5.45" text-anchor="start" fill="#000" font-family='"Liberation Sans", sans-serif' >Development (0.836)</text>
<line x1="462.80" y1="278.70" x2="472.60" y2="278.70" stroke="#3333ff" stroke-width="1.2" />
<text x="477.10" y="280.66" font-size="5.45" text-anchor="start" fill="#000" font-family='"Liberation Sans", sans-serif' >Internal validation (0.730)</text>
<line x1="462.80" y1="285.60" x2="472.60" y2="285.60" stroke="#33ee33" stroke-width="1.2" />
<text x="477.10" y="287.56" font-size="5.45" text-anchor="start" fill="#000" font-family='"Liberation Sans", sans-serif' >External validation (0.720)</text>
<text x="391.30" y="183.70" font-size="19" fill="#000" font-family='"Liberation Serif", serif'>G</text>
</svg>
</body></html>
